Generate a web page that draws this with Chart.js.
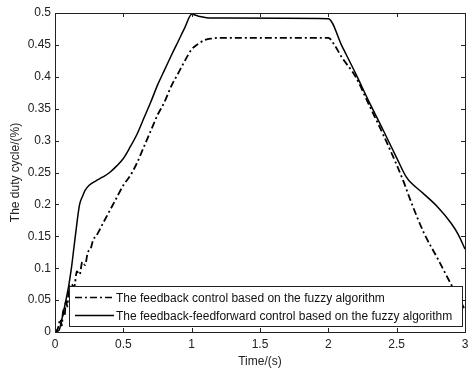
<!DOCTYPE html>
<html>
<head>
<meta charset="utf-8">
<script src="https://cdn.jsdelivr.net/npm/chart.js"></script>
<style>
  html, body { margin: 0; padding: 0; background: #fff; }
  #wrap { width: 474px; height: 377px; }
</style>
</head>
<body>
<div id="wrap"><canvas id="lineChart" width="474" height="377"></canvas></div>
<script>
// data
var timeFb = [0, 0.02, 0.04, 0.05, 0.06, 0.07, 0.08, 0.09, 0.10, 0.12, 0.14, 0.16, 0.18, 0.20, 0.22, 0.24, 0.26, 0.28, 0.30,
  0.35, 0.4, 0.45, 0.5, 0.55, 0.6, 0.65, 0.7, 0.75, 0.8, 0.85, 0.9, 0.95, 1.0, 1.05, 1.1, 1.15, 1.2, 1.5, 2.0,
  2.05, 2.1, 2.2, 2.3, 2.4, 2.5, 2.55, 2.6, 2.7, 2.8, 2.9, 3.0];
var dutyFb = [0, 0.005, 0.02, 0.01, 0.035, 0.025, 0.05, 0.04, 0.065, 0.075, 0.07, 0.095, 0.09, 0.11, 0.105, 0.125, 0.13, 0.145, 0.15,
  0.17, 0.19, 0.21, 0.23, 0.245, 0.265, 0.29, 0.315, 0.34, 0.36, 0.385, 0.405, 0.425, 0.443, 0.452, 0.458, 0.460, 0.461, 0.461, 0.461,
  0.448, 0.43, 0.40, 0.355, 0.31, 0.262, 0.236, 0.207, 0.155, 0.115, 0.074, 0.035];

var timeFf = [0, 0.03, 0.05, 0.08, 0.1, 0.12, 0.14, 0.16, 0.18, 0.2, 0.22, 0.25, 0.3, 0.35, 0.4, 0.45, 0.5, 0.55, 0.6, 0.65,
  0.7, 0.75, 0.8, 0.85, 0.9, 0.95, 1.0, 1.05, 1.15, 2.0, 2.1, 2.2, 2.3, 2.4, 2.5, 2.57, 2.6, 2.69, 2.8, 2.9, 2.95, 3.0];
var dutyFf = [0, 0.003, 0.02, 0.05, 0.072, 0.1, 0.135, 0.17, 0.2, 0.212, 0.222, 0.23, 0.237, 0.243, 0.25, 0.26, 0.272, 0.29, 0.31, 0.335,
  0.36, 0.387, 0.41, 0.433, 0.455, 0.477, 0.498, 0.495, 0.492, 0.491, 0.448, 0.405, 0.36, 0.317, 0.273, 0.243, 0.235, 0.218, 0.196, 0.17, 0.153, 0.13];

var seriesNames = ["The feedback control based on the fuzzy algorithm",
  "The feedback-feedforward control based on the fuzzy algorithm"];
var xTicks = [0, 0.5, 1, 1.5, 2, 2.5, 3];
var yTicks = [0, 0.05, 0.1, 0.15, 0.2, 0.25, 0.3, 0.35, 0.4, 0.45, 0.5];

function toPoints(xs, ys) {
  return xs.map(function (x, i) { return { x: x, y: ys[i] }; });
}
function plainNum(v) { return String(+Number(v).toFixed(2)); }

var FONT = "'Liberation Sans', Arial, sans-serif";
var DASHDOT = [7, 3, 2, 3];

// box, inward ticks on all four sides, and legend inside the plot
var matlabAxes = {
  id: "matlabAxes",
  afterDatasetsDraw: function (chart) {
    var ctx = chart.ctx, a = chart.chartArea;
    var xs = chart.scales.x, ys = chart.scales.y;
    ctx.save();
    ctx.strokeStyle = "#222";
    ctx.lineWidth = 1;
    ctx.beginPath();
    xTicks.forEach(function (v) {
      var p = Math.round(xs.getPixelForValue(v)) + 0.5;
      ctx.moveTo(p, a.bottom); ctx.lineTo(p, a.bottom - 4);
      ctx.moveTo(p, a.top); ctx.lineTo(p, a.top + 4);
    });
    yTicks.forEach(function (v) {
      var p = Math.round(ys.getPixelForValue(v)) + 0.5;
      ctx.moveTo(a.left, p); ctx.lineTo(a.left + 4, p);
      ctx.moveTo(a.right, p); ctx.lineTo(a.right - 4, p);
    });
    ctx.stroke();

    // legend
    var lx = a.left + 14, ly = a.bottom - 46, lw = a.right - lx - 3, lh = 40;
    ctx.fillStyle = "#fff";
    ctx.fillRect(lx, ly, lw, lh);
    ctx.strokeStyle = "#222";
    ctx.strokeRect(Math.round(lx) + 0.5, Math.round(ly) + 0.5, Math.round(lw), Math.round(lh));
    var rows = [ly + 11.5, ly + 29.5];
    ctx.font = "12px " + FONT;
    ctx.textBaseline = "middle";
    rows.forEach(function (ry, i) {
      ctx.strokeStyle = "#000";
      ctx.lineWidth = 1.6;
      ctx.setLineDash(i === 0 ? DASHDOT : []);
      ctx.beginPath();
      ctx.moveTo(lx + 6, ry); ctx.lineTo(lx + 45, ry);
      ctx.stroke();
      ctx.setLineDash([]);
      ctx.fillStyle = "#111";
      ctx.fillText(seriesNames[i], lx + 47, ry + 1);
    });

    ctx.strokeStyle = "#222";
    ctx.lineWidth = 1;
    ctx.strokeRect(Math.round(a.left) + 0.5, Math.round(a.top) + 0.5, Math.round(a.right - a.left), Math.round(a.bottom - a.top));
    ctx.restore();
  }
};

var ctx = document.getElementById("lineChart").getContext("2d");
new Chart(ctx, {
  type: "line",
  data: {
    datasets: [
      {
        label: seriesNames[0],
        data: toPoints(timeFb, dutyFb),
        borderColor: "#000",
        borderWidth: 1.8,
        borderDash: DASHDOT,
        pointRadius: 0,
        cubicInterpolationMode: "monotone",
        fill: false,
      },
      {
        label: seriesNames[1],
        data: toPoints(timeFf, dutyFf),
        borderColor: "#000",
        borderWidth: 1.5,
        pointRadius: 0,
        cubicInterpolationMode: "monotone",
        fill: false,
      },
    ],
  },
  options: {
    responsive: false,
    animation: false,
    layout: { padding: { left: 0, top: 13, right: 9, bottom: 0 } },
    plugins: { legend: { display: false }, tooltip: { enabled: false } },
    scales: {
      x: {
        type: "linear",
        min: 0,
        max: 3,
        afterBuildTicks: function (s) { s.ticks = xTicks.map(function (v) { return { value: v }; }); },
        afterFit: function (s) { s.height = 45; },
        grid: { display: false, drawTicks: false },
        border: { display: false },
        ticks: { color: "#222", font: { family: FONT, size: 12 }, padding: 5, maxRotation: 0, callback: plainNum },
        title: { display: true, text: "Time/(s)", color: "#222", font: { family: FONT, size: 12 }, padding: { top: 0, bottom: 8 } },
      },
      y: {
        min: 0,
        max: 0.5,
        afterBuildTicks: function (s) { s.ticks = yTicks.map(function (v) { return { value: v }; }); },
        afterFit: function (s) { s.width = 55; },
        grid: { display: false, drawTicks: false },
        border: { display: false },
        ticks: { color: "#222", font: { family: FONT, size: 12 }, padding: 4, callback: plainNum },
        title: { display: true, text: "The duty cycle/(%)", color: "#222", font: { family: FONT, size: 12 }, padding: { top: 8, bottom: 0 } },
      },
    },
  },
  plugins: [matlabAxes],
});
</script>
</body>
</html>
